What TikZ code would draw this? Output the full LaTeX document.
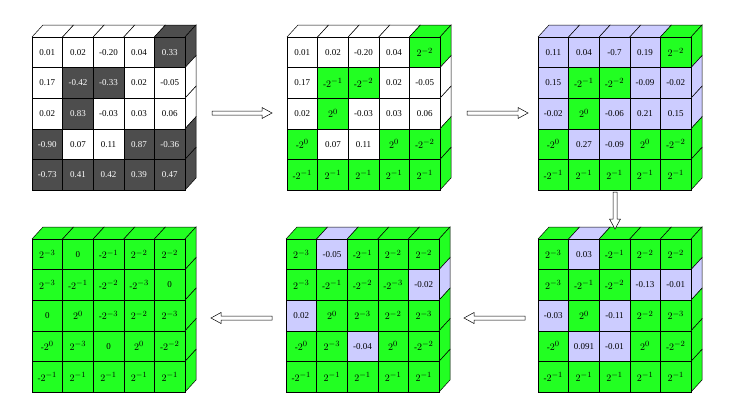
\documentclass[tikz,border=0pt]{standalone}
\usepackage{fontspec}
\setmainfont{Liberation Serif}
\DeclareMathSizes{9}{10}{8}{7}
\definecolor{cw}{RGB}{255,255,255}
\definecolor{cg}{RGB}{34,255,34}
\definecolor{cb}{RGB}{204,204,255}
\definecolor{cd}{RGB}{77,77,77}
\colorlet{tw}{black}\colorlet{tg}{black}\colorlet{tb}{black}\colorlet{td}{white}
\tikzset{
 cell/.style={draw=black,line width=0.6pt,minimum size=30.6pt,inner sep=0pt,font=\fontsize{9}{10}\selectfont},
 face/.style={draw=black,line width=0.5pt},
 bigarrow/.style={draw=black,fill=white,line width=0.5pt,line join=miter}
}
\newcommand{\harrow}[3]{% x1,x2,y
 \pgfmathsetmacro{\sg}{(#2>#1)?1:-1}
 \pgfmathsetmacro{\hb}{#2-10*\sg}
 \draw[bigarrow] (#1,#3-2)--(\hb,#3-2)--(\hb,#3-5.5)--(#2,#3)--(\hb,#3+5.5)--(\hb,#3+2)--(#1,#3+2)--cycle;}
\newcommand{\varrow}[3]{% y1,y2,x
 \pgfmathsetmacro{\hb}{#2-10}
 \draw[bigarrow] (#3-2,#1)--(#3-2,\hb)--(#3-5.5,\hb)--(#3,#2)--(#3+5.5,\hb)--(#3+2,\hb)--(#3+2,#1)--cycle;}
\newcommand{\mygrid}[4]{% name, x0, y0, rows
 \foreach \row [count=\r] in {#4}{
  \foreach \f/\t [count=\c] in \row{
   \pgfmathsetmacro{\xx}{#2+(\c-0.5)*30.6}
   \pgfmathsetmacro{\yy}{#3+(\r-0.5)*30.6}
   \pgfmathsetmacro{\xa}{#2+(\c-1)*30.6}
   \pgfmathsetmacro{\xb}{#2+\c*30.6}
   \pgfmathsetmacro{\ya}{#3+(\r-1)*30.6}
   \pgfmathsetmacro{\yb}{#3+\r*30.6}
   \ifnum\r=1 \fill[c\f] (\xa,\ya)--(\xa+11,\ya-12)--(\xb+11,\ya-12)--(\xb,\ya)--cycle;
     \draw[face] (\xa,\ya)--(\xa+11,\ya-12)--(\xb+11,\ya-12)--(\xb,\ya);\fi
   \ifnum\c=5 \fill[c\f] (\xb,\ya)--(\xb+11,\ya-12)--(\xb+11,\yb-12)--(\xb,\yb)--cycle;
     \draw[face] (\xb,\ya)--(\xb+11,\ya-12)--(\xb+11,\yb-12)--(\xb,\yb);\fi
   \node[cell,fill=c\f,text=t\f] (#1-\r-\c) at (\xx,\yy) {\t};
  }
 }
}
\begin{document}
\begin{tikzpicture}[x=1pt,y=-1pt]
\useasboundingbox (0,0) rectangle (736,405);
\mygrid{A}{32}{37}{
 {w/0.01,w/0.02,w/-0.20,w/0.04,d/0.33},
 {w/0.17,d/-0.42,d/-0.33,w/0.02,w/-0.05},
 {w/0.02,d/0.83,w/-0.03,w/0.03,w/0.06},
 {d/-0.90,w/0.07,w/0.11,d/0.87,d/-0.36},
 {d/-0.73,d/0.41,d/0.42,d/0.39,d/0.47}}
\mygrid{B}{287}{37}{
 {w/0.01,w/0.02,w/-0.20,w/0.04,g/$2^{-2}$},
 {w/0.17,g/-$2^{-1}$,g/-$2^{-2}$,w/0.02,w/-0.05},
 {w/0.02,g/$2^{0}$,w/-0.03,w/0.03,w/0.06},
 {g/-$2^{0}$,w/0.07,w/0.11,g/$2^{0}$,g/-$2^{-2}$},
 {g/-$2^{-1}$,g/$2^{-1}$,g/$2^{-1}$,g/$2^{-1}$,g/$2^{-1}$}}
\mygrid{C}{538}{37}{
 {b/0.11,b/0.04,b/-0.7,b/0.19,g/$2^{-2}$},
 {b/0.15,g/-$2^{-1}$,g/-$2^{-2}$,b/-0.09,b/-0.02},
 {b/-0.02,g/$2^{0}$,b/-0.06,b/0.21,b/0.15},
 {g/-$2^{0}$,b/0.27,b/-0.09,g/$2^{0}$,g/-$2^{-2}$},
 {g/-$2^{-1}$,g/$2^{-1}$,g/$2^{-1}$,g/$2^{-1}$,g/$2^{-1}$}}
\mygrid{D}{538}{239}{
 {g/$2^{-3}$,b/0.03,g/-$2^{-1}$,g/$2^{-2}$,g/$2^{-2}$},
 {g/$2^{-3}$,g/-$2^{-1}$,g/-$2^{-2}$,b/-0.13,b/-0.01},
 {b/-0.03,g/$2^{0}$,b/-0.11,g/$2^{-2}$,g/$2^{-3}$},
 {g/-$2^{0}$,b/0.091,b/-0.01,g/$2^{0}$,g/-$2^{-2}$},
 {g/-$2^{-1}$,g/$2^{-1}$,g/$2^{-1}$,g/$2^{-1}$,g/$2^{-1}$}}
\mygrid{E}{286}{239}{
 {g/$2^{-3}$,b/-0.05,g/-$2^{-1}$,g/$2^{-2}$,g/$2^{-2}$},
 {g/$2^{-3}$,g/-$2^{-1}$,g/-$2^{-2}$,g/-$2^{-3}$,b/-0.02},
 {b/0.02,g/$2^{0}$,g/$2^{-3}$,g/$2^{-2}$,g/$2^{-3}$},
 {g/-$2^{0}$,g/$2^{-3}$,b/-0.04,g/$2^{0}$,g/-$2^{-2}$},
 {g/-$2^{-1}$,g/$2^{-1}$,g/$2^{-1}$,g/$2^{-1}$,g/$2^{-1}$}}
\mygrid{F}{32}{239}{
 {g/$2^{-3}$,g/0,g/-$2^{-1}$,g/$2^{-2}$,g/$2^{-2}$},
 {g/$2^{-3}$,g/-$2^{-1}$,g/-$2^{-2}$,g/-$2^{-3}$,g/0},
 {g/0,g/$2^{0}$,g/-$2^{-3}$,g/$2^{-2}$,g/$2^{-3}$},
 {g/-$2^{0}$,g/$2^{-3}$,g/0,g/$2^{0}$,g/-$2^{-2}$},
 {g/-$2^{-1}$,g/$2^{-1}$,g/$2^{-1}$,g/$2^{-1}$,g/$2^{-1}$}}
\harrow{212}{272}{113}
\harrow{467}{528}{113}
\varrow{192}{229}{615}
\harrow{525}{464}{318}
\harrow{272}{211}{318}
\end{tikzpicture}
\end{document}
